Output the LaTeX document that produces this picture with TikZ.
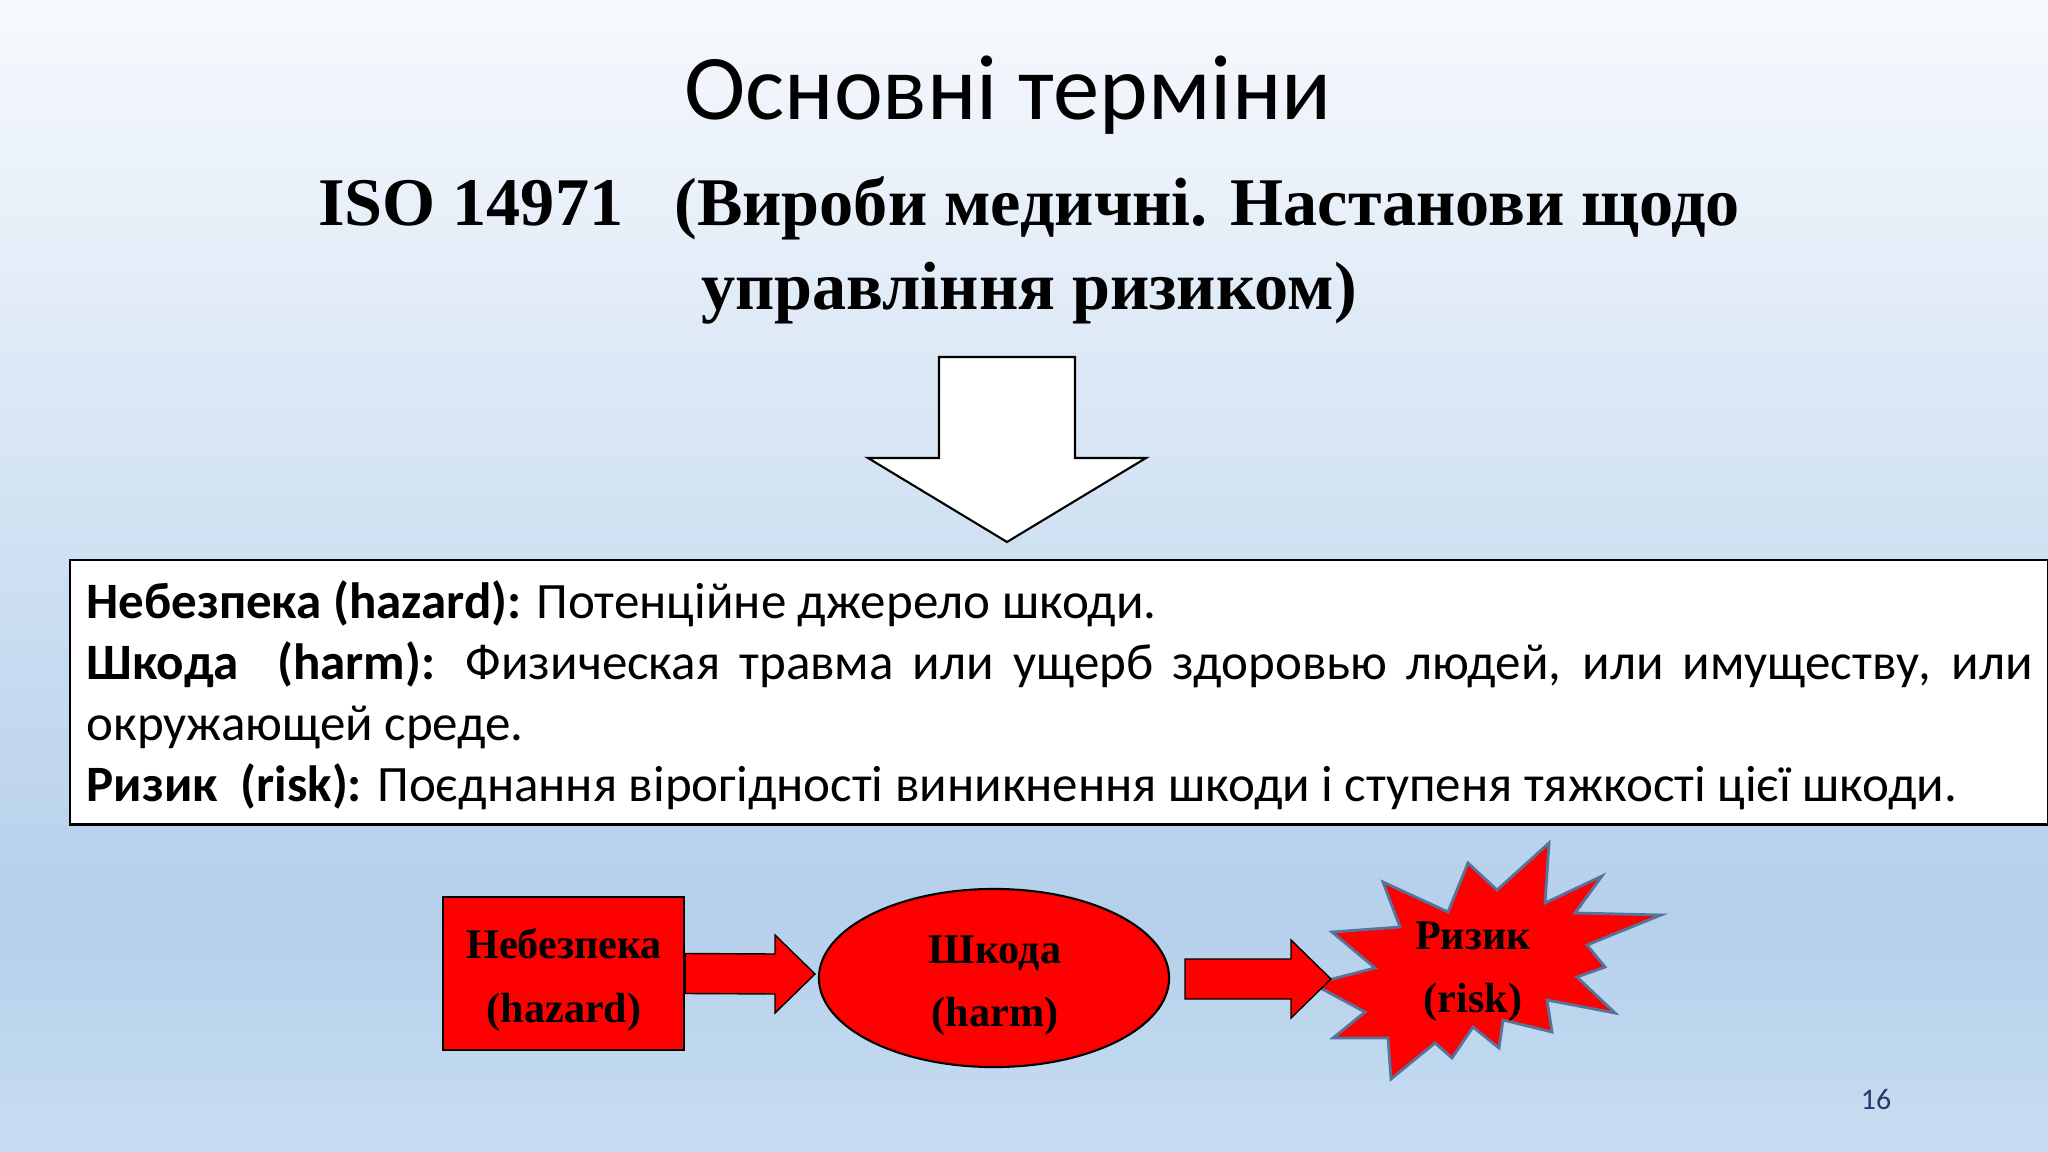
\documentclass[tikz,border=0pt]{standalone}
\usepackage{fontspec}
\setmainfont{Carlito}
\newfontfamily\serifbf{Liberation Serif}
\usetikzlibrary{calc,shapes.geometric}

\definecolor{bgtop}{RGB}{247,249,253}
\definecolor{bgmid}{RGB}{181,208,235}
\definecolor{bgbot}{RGB}{199,221,241}
\definecolor{burstline}{RGB}{84,116,156}
\definecolor{pagenum}{RGB}{38,58,112}

\tikzset{
  redshape/.style={draw=black,fill=red,line width=0.6pt,inner sep=0pt,align=center,
    font=\serifbf\bfseries\fontsize{12}{18}\selectfont},
  blockarrow/.style={draw=black,fill=red,line width=0.4pt},
  heading/.style={anchor=base,font=\serifbf\bfseries\fontsize{19.4}{24}\selectfont},
}

% red block arrow pointing right, from #1 to the tip #2
\newcommand{\rightblock}[2]{%
  \draw[blockarrow] ($(#1)+(0,-20)$) -- ($(#2)+(-40,-20)$) -- ($(#2)+(-40,-39)$) -- (#2)
    -- ($(#2)+(-40,39)$) -- ($(#2)+(-40,20)$) -- ($(#1)+(0,20)$) -- cycle;}

\begin{document}
\begin{tikzpicture}[x=0.01cm,y=-0.01cm]
  \useasboundingbox (0,0) rectangle (2048,1152);
  \shade[top color=bgtop,bottom color=bgmid] (0,0) rectangle (2048,915);
  \shade[top color=bgmid,bottom color=bgbot] (0,914) rectangle (2048,1152);

  % headings
  \node[anchor=base,font=\fontsize{26.3}{32}\selectfont] (title) at (1008,120) {Основні терміни};
  \node[heading] (iso) at (1029,226) {ISO 14971~~~(Вироби медичні. Настанови щодо};
  \node[heading] (iso2) at (1029,310) {управління ризиком)};

  % big arrow down
  \coordinate (downtop) at (1007,357);
  \coordinate (downtip) at (1007,542);
  \draw[fill=white,line width=0.6pt] ($(downtop)+(-68,0)$) -- ($(downtop)+(68,0)$)
    -- ($(downtip)+(68,-84)$) -- ($(downtip)+(139,-84)$) -- (downtip)
    -- ($(downtip)+(-139,-84)$) -- ($(downtip)+(-68,-84)$) -- cycle;

  % definitions
  \node[draw,fill=white,line width=0.7pt,minimum width=19.77cm,minimum height=2.64cm,
    anchor=north west] (defbox) at (69,559) {};
  \node[anchor=north west,inner sep=0pt,text width=19.45cm,align=justify,
    font=\fontsize{14.5}{17.3}\selectfont] (defs) at (86,580) {%
    \textbf{Небезпека (hazard):} Потенційне джерело шкоди.\\
    \textbf{Шкода~ (harm):} Физическая травма или ущерб здоровью людей, или имуществу, или\linebreak
    окружающей среде.\\
    \textbf{Ризик~ (risk):} Поєднання вірогідності виникнення шкоди і ступеня тяжкості цієї шкоди.};

  % hazard -> harm -> risk
  \node[redshape,minimum width=2.41cm,minimum height=1.53cm] (hazard) at (563.5,973.5) {};
  \node[redshape,draw=none,fill=none] (hazardtxt) at (564,980) {Небезпека\\(hazard)};
  \node[redshape,ellipse,minimum width=3.5cm,minimum height=1.78cm] (harm) at (994,978) {};
  \node[redshape,draw=none,fill=none] (harmtxt) at (995,986) {Шкода\\(harm)};
  \draw[fill=red,draw=burstline,line width=0.8pt] (1549,843) -- (1545,903) -- (1602,876) -- (1575,913)
    -- (1661,915) -- (1587,945) -- (1605,967) -- (1577,977) -- (1615,1013) -- (1547,1000)
    -- (1552,1032) -- (1503,1020) -- (1499,1048) -- (1473,1027) -- (1452,1058) -- (1435,1043)
    -- (1391,1079) -- (1388,1038) -- (1333,1038) -- (1365,1012) -- (1313,984) -- (1375,968)
    -- (1332,932) -- (1400,927) -- (1383,882) -- (1448,912) -- (1468,863) -- (1497,890) -- cycle;
  \node[redshape,draw=none,fill=none] (risk) at (1473,972) {Ризик\\(risk)};

  \coordinate (tip1) at (815,974);
  \coordinate (tail2) at (1185,979);
  \coordinate (tip2) at (1331,979);
  \rightblock{hazard.east}{tip1}
  \rightblock{tail2}{tip2}

  \node[font=\fontsize{8.5}{10}\selectfont,text=pagenum] (pnum) at (1876,1100) {16};
\end{tikzpicture}
\end{document}
